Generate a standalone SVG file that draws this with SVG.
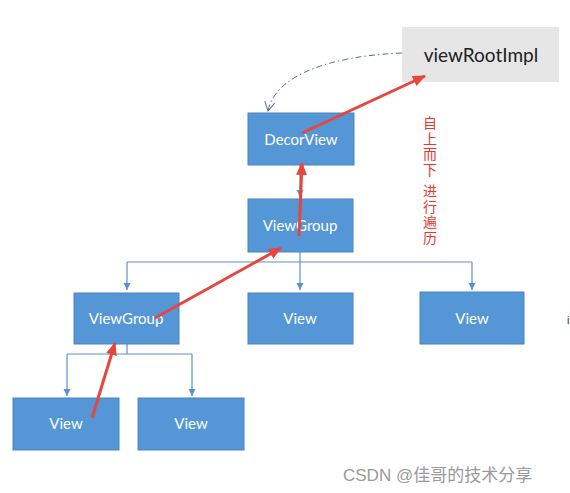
<svg xmlns="http://www.w3.org/2000/svg" width="570" height="493" viewBox="0 0 570 493">
<style>
.box{fill:#5596d6;stroke:#4a86c2;stroke-width:1}
.lbl{font-family:"Lato","Open Sans","Liberation Sans",sans-serif;font-size:15px;fill:#ffffff;text-anchor:middle;dominant-baseline:central}
.conn{fill:none;stroke:#5b8fcf;stroke-width:1.2}
.red{fill:none;stroke:#e8453c;stroke-width:3}
.vt{font-family:"Noto Sans CJK SC",sans-serif;font-size:14px;fill:#e8382e;writing-mode:vertical-rl;letter-spacing:1.5px}
</style>
<defs>
<marker id="ba" markerWidth="8" markerHeight="8" refX="7" refY="4" orient="auto" markerUnits="userSpaceOnUse">
<path d="M0,0.5 L7,4 L0,7.5 Z" fill="#5b8fcf"/>
</marker>
<marker id="ra" markerWidth="14" markerHeight="12" refX="12" refY="6" orient="auto" markerUnits="userSpaceOnUse">
<path d="M0,0.5 L13,6 L0,11.5 Z" fill="#e8453c"/>
</marker>
<marker id="da" markerWidth="12" markerHeight="12" refX="10" refY="6" orient="auto" markerUnits="userSpaceOnUse">
<path d="M1,1 L10,6 L1,11" fill="none" stroke="#5a6f9a" stroke-width="1"/>
</marker>
</defs>
<rect width="570" height="493" fill="#ffffff"/>
<g id="connectors">
<path class="conn" d="M300,252 V290" marker-end="url(#ba)"/>
<path class="conn" d="M127,262 H472"/>
<path class="conn" d="M127,262 V290" marker-end="url(#ba)"/>
<path class="conn" d="M472,262 V290" marker-end="url(#ba)"/>
<path class="conn" d="M127,344 V354"/>
<path class="conn" d="M67,354 H192"/>
<path class="conn" d="M67,354 V396" marker-end="url(#ba)"/>
<path class="conn" d="M192,354 V396" marker-end="url(#ba)"/>
<path class="conn" d="M300,165 V197" marker-end="url(#ba)"/>
<path d="M402,53 C330,56 275,75 268,111" fill="none" stroke="#5a6f9a" stroke-width="1" stroke-dasharray="6,3,1.5,3" marker-end="url(#da)"/>
</g>
<g id="viewRootImpl">
<rect x="402" y="27" width="157" height="55" fill="#e6e6e6"/>
<text x="481" y="54" font-family="Lato,'Open Sans','Liberation Sans',sans-serif" font-size="19" fill="#222222" text-anchor="middle" dominant-baseline="central">viewRootImpl</text>
</g>
<g id="decorView">
<rect class="box" x="248" y="113" width="106" height="52"/>
<text class="lbl" x="301" y="139">DecorView</text>
</g>
<g id="viewGroupTop">
<rect class="box" x="248" y="199" width="105" height="53"/>
<text class="lbl" x="300" y="225">ViewGroup</text>
</g>
<g id="viewGroupLeft">
<rect class="box" x="74" y="293" width="105" height="51"/>
<text class="lbl" x="126" y="318">ViewGroup</text>
</g>
<g id="viewMid">
<rect class="box" x="248" y="293" width="105" height="51"/>
<text class="lbl" x="300" y="318">View</text>
</g>
<g id="viewRight">
<rect class="box" x="420" y="292" width="104" height="52"/>
<text class="lbl" x="472" y="318">View</text>
</g>
<g id="viewBL">
<rect class="box" x="13" y="398" width="106" height="52"/>
<text class="lbl" x="66" y="423">View</text>
</g>
<g id="viewBR">
<rect class="box" x="138" y="398" width="106" height="52"/>
<text class="lbl" x="191" y="423">View</text>
</g>
<g id="traversal">
<path class="red" d="M92,418 L115,343" marker-end="url(#ra)"/>
<path class="red" d="M155,318 L281,248" marker-end="url(#ra)"/>
<path class="red" d="M299,236 L302,163" marker-end="url(#ra)"/>
<path class="red" d="M302,133 L425,76" marker-end="url(#ra)"/>
</g>
<g id="note">
<text class="vt" x="430" y="116">自上而下</text>
<text class="vt" x="430" y="184">进行遍历</text>
</g>
<text x="567" y="320" font-family="'Liberation Sans',sans-serif" font-size="11" fill="#333333" dominant-baseline="central">i</text>
<text x="343" y="475" font-family="'Liberation Sans','Noto Sans CJK SC',sans-serif" font-size="17" fill="#9a9a9a" dominant-baseline="central">CSDN @佳哥的技术分享</text>
</svg>
